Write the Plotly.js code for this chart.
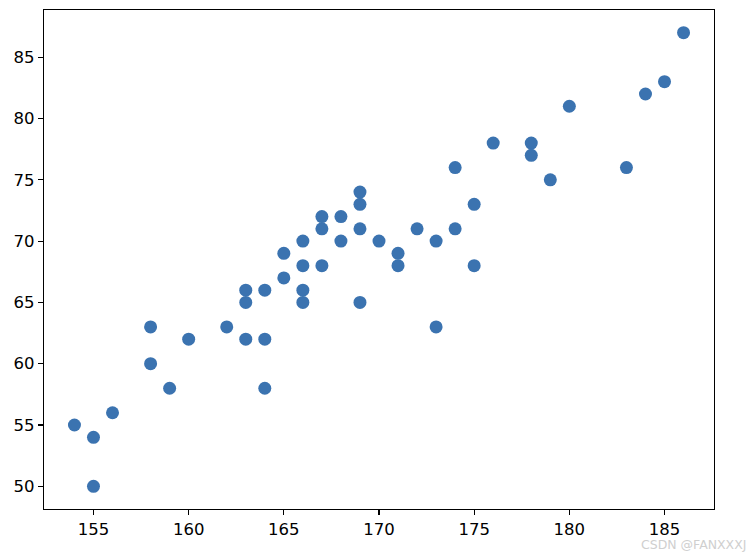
<!DOCTYPE html>
<html><head><meta charset="utf-8">
<script src="https://cdn.plot.ly/plotly-3.0.1.min.js"></script>
<style>html,body{margin:0;padding:0;background:#fff}</style>
</head><body>
<div id="chart" style="width:752px;height:553px"></div>
<script>
const heights = [154,155,155,156,158,158,159,160,162,163,163,163,164,164,164,165,165,166,166,166,166,167,167,167,168,168,169,169,169,169,170,171,171,172,173,173,174,174,175,175,176,178,178,179,180,183,184,185,186];
const weights = [55,54,50,56,63,60,58,62,63,66,65,62,66,62,58,69,67,70,68,66,65,72,71,68,72,70,74,73,71,65,70,69,68,71,70,63,76,71,73,68,78,78,77,75,81,76,82,83,87];
const xTicks = [155,160,165,170,175,180,185];
const yTicks = [50,55,60,65,70,75,80,85];

const fontFam = 'DejaVu Sans, sans-serif';
const data = [{
  type: 'scatter', mode: 'markers', x: heights, y: weights,
  marker: {color: '#3b73b0', size: 13, line: {width: 0}},
  hoverinfo: 'none'
}];
const axisCommon = {
  showgrid: false, zeroline: false, showline: true, linecolor: '#000', linewidth: 1.2,
  mirror: true, ticks: 'outside', ticklen: 5, tickwidth: 1.2, tickcolor: '#000',
  tickfont: {family: fontFam, size: 16.5, color: '#000'}
};
const layout = {
  width: 752, height: 553,
  margin: {l: 44, r: 38, t: 10, b: 44},
  paper_bgcolor: '#fff', plot_bgcolor: '#fff',
  showlegend: false,
  xaxis: Object.assign({}, axisCommon, {range: [152.4, 187.6], tickvals: xTicks, ticktext: xTicks.map(String)}),
  yaxis: Object.assign({}, axisCommon, {range: [48.15, 88.85], tickvals: yTicks, ticktext: yTicks.map(String)}),
  annotations: [{
    text: 'CSDN @FANXXXJ', xref: 'paper', yref: 'paper', x: 1.05, y: -0.072,
    xanchor: 'right', yanchor: 'middle', showarrow: false,
    font: {family: fontFam, size: 12.5, color: '#cfcfcf'}
  }]
};
Plotly.newPlot('chart', data, layout, {displayModeBar: false, staticPlot: true});
</script>
</body></html>
